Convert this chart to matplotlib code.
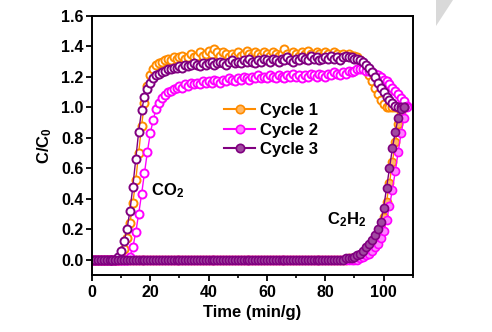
import numpy as np
import matplotlib
matplotlib.use("Agg")
import matplotlib.pyplot as plt
from matplotlib.lines import Line2D
from matplotlib.patches import Polygon

plt.rcParams["font.family"] = ["Liberation Sans", "DejaVu Sans"]
plt.rcParams["font.weight"] = "bold"
plt.rcParams["mathtext.fontset"] = "custom"
plt.rcParams["mathtext.rm"] = "Liberation Sans:bold"
plt.rcParams["mathtext.bf"] = "Liberation Sans:bold"
plt.rcParams["mathtext.default"] = "bf"

# Sampling times (min/g), one reading per unit
time = np.arange(0, 109)

cycles = ["Cycle 1", "Cycle 2", "Cycle 3"]
colors = ["#ff8c00", "#ff00ff", "#800080"]
faces = ["#ffb866", "#ff80ff", "#a04aa0"]

# CO2 breakthrough, C/C0
co2_c1 = [
    0, 0, 0, 0, 0, 0, 0, 0, 0, 0,
    0.02, 0.07, 0.14, 0.24, 0.37, 0.52, 0.70, 0.88, 1.03,
    1.14, 1.21, 1.25, 1.28, 1.29, 1.30, 1.31, 1.32, 1.31, 1.33, 1.32,
    1.33, 1.34, 1.32, 1.33, 1.35, 1.33, 1.34, 1.36, 1.34, 1.35,
    1.37, 1.35, 1.38, 1.36, 1.34, 1.36, 1.35, 1.33, 1.35, 1.34,
    1.36, 1.34, 1.35, 1.37, 1.35, 1.34, 1.36, 1.35, 1.34, 1.36,
    1.35, 1.34, 1.36, 1.35, 1.34, 1.35, 1.38, 1.35, 1.34, 1.36,
    1.35, 1.34, 1.36, 1.35, 1.37, 1.35, 1.34, 1.36, 1.35, 1.34,
    1.36, 1.35, 1.34, 1.36, 1.35, 1.34, 1.35, 1.34, 1.35, 1.34,
    1.34, 1.33, 1.31, 1.28, 1.25, 1.21, 1.17, 1.13, 1.09, 1.05,
    1.02, 1.00, 1.00, 1.00, 1.00, 1.00,
]
co2_c2 = [
    0, 0, 0, 0, 0, 0, 0, 0, 0, 0, 0, 0, 0,
    0.02, 0.08, 0.18, 0.30, 0.43, 0.57, 0.71, 0.83, 0.92, 0.99,
    1.03, 1.06, 1.08, 1.10, 1.11, 1.12, 1.13,
    1.14, 1.13, 1.15, 1.14, 1.16, 1.15, 1.16, 1.15, 1.17, 1.16,
    1.17, 1.16, 1.18, 1.17, 1.16, 1.18, 1.17, 1.19, 1.18, 1.17,
    1.19, 1.18, 1.20, 1.19, 1.18, 1.20, 1.19, 1.21, 1.19, 1.20,
    1.19, 1.21, 1.20, 1.19, 1.21, 1.20, 1.19, 1.21, 1.20, 1.22,
    1.20, 1.21, 1.19, 1.21, 1.20, 1.22, 1.21, 1.20, 1.22, 1.21,
    1.20, 1.22, 1.21, 1.23, 1.22, 1.21, 1.23, 1.22, 1.24, 1.23,
    1.24, 1.25, 1.25, 1.25, 1.24, 1.24, 1.23, 1.22, 1.21, 1.20,
    1.18, 1.17, 1.15, 1.13, 1.11, 1.09, 1.06, 1.04, 1.01,
]
co2_c3 = [
    0, 0, 0, 0, 0, 0, 0, 0, 0,
    0.02, 0.06, 0.12, 0.20, 0.32, 0.48, 0.66, 0.84, 0.98,
    1.07, 1.12, 1.16, 1.19, 1.21, 1.22, 1.23, 1.24, 1.25, 1.25, 1.26, 1.26,
    1.27, 1.26, 1.28, 1.27, 1.28, 1.29, 1.28, 1.27, 1.29, 1.28,
    1.29, 1.30, 1.28, 1.29, 1.30, 1.29, 1.28, 1.30, 1.31, 1.29,
    1.30, 1.29, 1.31, 1.30, 1.32, 1.30, 1.29, 1.31, 1.30, 1.32,
    1.31, 1.30, 1.32, 1.31, 1.30, 1.32, 1.31, 1.33, 1.31, 1.30,
    1.32, 1.31, 1.33, 1.32, 1.31, 1.34, 1.32, 1.33, 1.31, 1.32,
    1.33, 1.32, 1.34, 1.32, 1.33, 1.31, 1.33, 1.34, 1.33, 1.33,
    1.32, 1.32, 1.31, 1.30, 1.28, 1.26, 1.23, 1.20, 1.16, 1.13,
    1.10, 1.07, 1.05, 1.03, 1.01, 1.00, 1.00, 1.00,
]

# C2H2 breakthrough, C/C0
c2h2_c1 = [
    0, 0, 0, 0, 0, 0, 0, 0, 0, 0,
    0, 0, 0, 0, 0, 0, 0, 0, 0, 0,
    0, 0, 0, 0, 0, 0, 0, 0, 0, 0,
    0, 0, 0, 0, 0, 0, 0, 0, 0, 0,
    0, 0, 0, 0, 0, 0, 0, 0, 0, 0,
    0, 0, 0, 0, 0, 0, 0, 0, 0, 0,
    0, 0, 0, 0, 0, 0, 0, 0, 0, 0,
    0, 0, 0, 0, 0, 0, 0, 0, 0, 0,
    0, 0, 0, 0, 0, 0, 0, 0, 0.01, 0.01,
    0.01, 0.02, 0.03, 0.04, 0.05, 0.07, 0.10, 0.13, 0.17, 0.21,
    0.28, 0.38, 0.50, 0.64, 0.77, 0.89, 0.97, 1.00,
]
c2h2_c2 = [
    0, 0, 0, 0, 0, 0, 0, 0, 0, 0,
    0, 0, 0, 0, 0, 0, 0, 0, 0, 0,
    0, 0, 0, 0, 0, 0, 0, 0, 0, 0,
    0, 0, 0, 0, 0, 0, 0, 0, 0, 0,
    0, 0, 0, 0, 0, 0, 0, 0, 0, 0,
    0, 0, 0, 0, 0, 0, 0, 0, 0, 0,
    0, 0, 0, 0, 0, 0, 0, 0, 0, 0,
    0, 0, 0, 0, 0, 0, 0, 0, 0, 0,
    0, 0, 0, 0, 0, 0, 0, 0, 0, 0,
    0, 0, 0.01, 0.02, 0.03, 0.04, 0.06, 0.08, 0.10, 0.14,
    0.19, 0.26, 0.35, 0.46, 0.58, 0.71, 0.83, 0.93, 1.00,
]
c2h2_c3 = [
    0, 0, 0, 0, 0, 0, 0, 0, 0, 0,
    0, 0, 0, 0, 0, 0, 0, 0, 0, 0,
    0, 0, 0, 0, 0, 0, 0, 0, 0, 0,
    0, 0, 0, 0, 0, 0, 0, 0, 0, 0,
    0, 0, 0, 0, 0, 0, 0, 0, 0, 0,
    0, 0, 0, 0, 0, 0, 0, 0, 0, 0,
    0, 0, 0, 0, 0, 0, 0, 0, 0, 0,
    0, 0, 0, 0, 0, 0, 0, 0, 0, 0,
    0, 0, 0, 0, 0, 0, 0, 0.01, 0.01, 0.01,
    0.02, 0.03, 0.04, 0.06, 0.08, 0.10, 0.13, 0.16, 0.20, 0.25,
    0.34, 0.47, 0.60, 0.73, 0.84, 0.93, 0.99, 1.00,
]

co2_all = [co2_c1, co2_c2, co2_c3]
c2h2_all = [c2h2_c1, c2h2_c2, c2h2_c3]

fig = plt.figure(figsize=(4.92, 3.32), dpi=100)
ax = fig.add_axes([0.187, 0.172, 0.652, 0.78])

for co2, c2h2, col, face in zip(co2_all, c2h2_all, colors, faces):
    ax.plot(time[:len(co2)], co2, "-o", color=col, lw=1.0, ms=5.8,
            mfc="white", mec=col, mew=1.4)
    ax.plot(time[:len(c2h2)], c2h2, "-o", color=col, lw=1.0, ms=5.8,
            mfc=face, mec=col, mew=1.2)

ax.set_xlim(0, 110)
ax.set_ylim(-0.1, 1.6)
ax.set_xticks(np.arange(0, 101, 20))
ax.set_xticks(np.arange(10, 111, 20), minor=True)
ax.set_yticks(np.arange(0, 1.61, 0.2))
ax.yaxis.set_major_formatter(plt.FormatStrFormatter("%.1f"))
ax.tick_params(axis="both", which="major", direction="out", length=4,
               width=1.3, labelsize=11.5, pad=2)
ax.tick_params(axis="x", which="major", pad=3)
ax.tick_params(axis="x", which="minor", direction="out", length=2.5, width=1.2)
for sp in ax.spines.values():
    sp.set_linewidth(1.4)

ax.set_xlabel("Time (min/g)", fontsize=12, fontweight="bold", labelpad=4)
ax.set_ylabel("C/C$_0$", fontsize=12, fontweight="bold", labelpad=5)

ax.text(20.3, 0.45, "CO$_2$", fontsize=12, va="center", ha="left")
ax.text(80.5, 0.26, "C$_2$H$_2$", fontsize=12, va="center", ha="left")

handles = [Line2D([0], [0], color=c, lw=1.5, marker="o", ms=6, mfc=f, mec=c, mew=1.2)
           for c, f in zip(colors, faces)]
ax.legend(handles, cycles, loc="upper left", bbox_to_anchor=(0.39, 0.69),
          frameon=False, fontsize=12, handlelength=1.9, handletextpad=0.3,
          labelspacing=0.28, borderaxespad=0)

# grey page corner at the top right
fig.patches.append(Polygon([(436 / 492, 1), (453 / 492, 1), (436 / 492, 1 - 26 / 332)],
                           closed=True, transform=fig.transFigure,
                           color="#d9d9d9", lw=0))

fig.savefig("out.png", dpi=100)
